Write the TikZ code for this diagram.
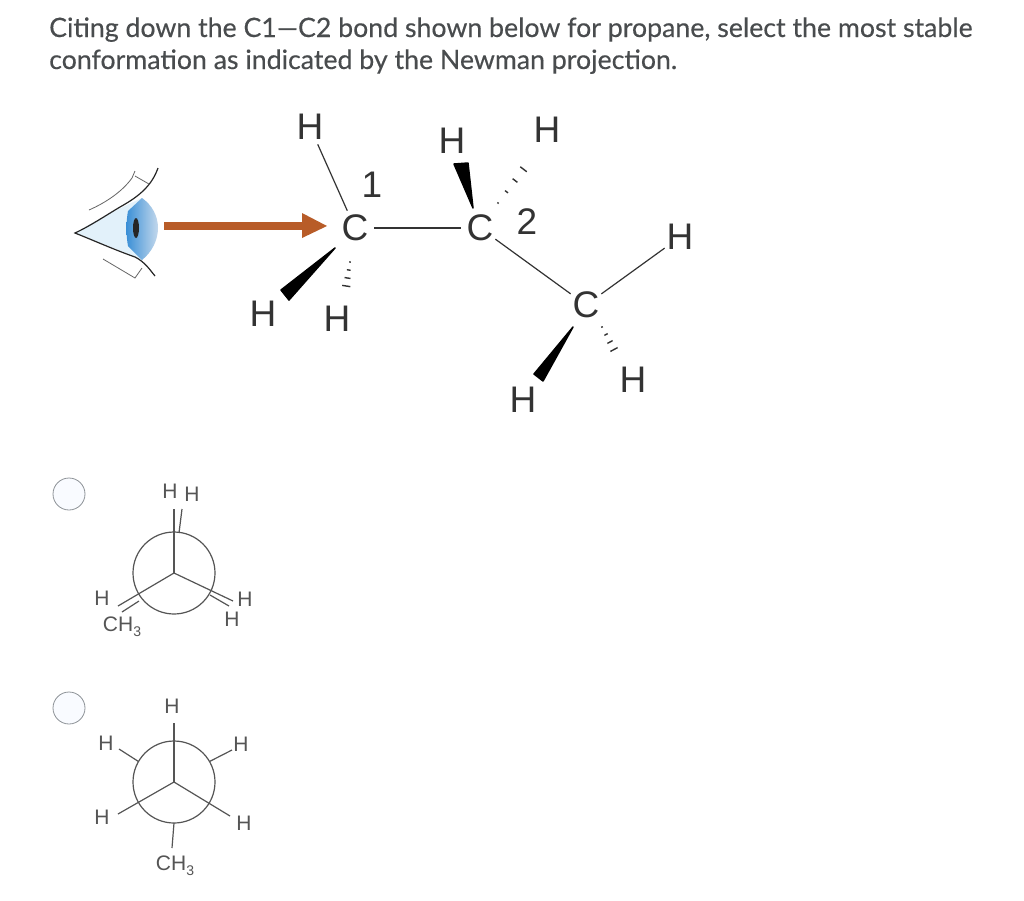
\documentclass[tikz,border=0pt]{standalone}
\usepackage{fontspec}
\setmainfont{Lato}[FakeBold=0.3]
\newfontfamily\chemfont{Liberation Sans}
\usetikzlibrary{calc}
\definecolor{headtext}{HTML}{494C4E}
\definecolor{arrowbrown}{HTML}{B85C28}
\definecolor{irisblue}{HTML}{3A8FD6}
\definecolor{irispale}{HTML}{C3D8EC}
\definecolor{eyewhite}{HTML}{E2F1FA}
\definecolor{radioedge}{HTML}{8D9297}
\definecolor{radiofill}{HTML}{F9FBFF}
\definecolor{newmangray}{HTML}{555555}
\tikzset{
  headline/.style={anchor=base west,inner sep=0pt,text=headtext,font=\fontsize{26.7}{30}\selectfont},
  atom/.style={circle,inner sep=0pt,outer sep=0pt,minimum size=38pt,text=black!80,font=\chemfont\fontsize{37}{37}\selectfont},
  locant/.style={inner sep=0pt,text=black!80,font=\chemfont\fontsize{37}{37}\selectfont},
  bond/.style={black!80,line width=1.2pt},
  radio/.style={circle,draw=radioedge,fill=radiofill,line width=0.8pt,minimum size=32pt,inner sep=0pt},
  ring/.style={circle,draw=newmangray,line width=1.2pt,minimum size=82pt,inner sep=0pt,outer sep=0pt},
  nbond/.style={newmangray,line width=1.2pt},
  small/.style={inner sep=0pt,text=newmangray,font=\chemfont\fontsize{21}{21}\selectfont},
  wedgebond/.style={black,line width=1.5pt,line join=round},
}
\newcommand{\hashbond}[2]{
  \foreach \t [evaluate=\t as \w using 0.8+4.4*\t] in {0,0.25,0.5,0.75,1}
    \draw[black!80,line width=1.4pt] ($(#1)!\t!(#2)!\w pt!90:(#2)$) -- ($(#1)!\t!(#2)!\w pt!-90:(#2)$);
}
\newcommand{\chsub}{CH\raisebox{-5pt}{\fontsize{14}{14}\selectfont 3}}
\begin{document}
\begin{tikzpicture}[x=1pt,y=-1pt]
\useasboundingbox[fill=white] (0,0) rectangle (1024,900);
\node[headline] (line1) at (49,37) {Citing down the C1---C2 bond shown below for propane, select the most stable};
\node[headline] (line2) at (49,69) {conformation as indicated by the Newman projection.};

\fill[eyewhite] (75,233) .. controls (100,218) and (120,208) .. (142,198) -- (142,260) .. controls (120,250) and (100,243) .. (75,233);
\shade[left color=irisblue,middle color=irisblue,right color=irispale] (142,198) .. controls (152,205) and (158,216) .. (158,228) .. controls (158,240) and (152,252) .. (142,260) -- (128,246) .. controls (126,235) and (126,222) .. (128,211) -- cycle;
\fill[black!85] (136,228) ellipse (3 and 10);
\draw[black!85,line width=1.2pt] (158,168) .. controls (152,185) and (140,196) .. (120,207) .. controls (105,216) and (90,226) .. (75,233) .. controls (95,241) and (115,250) .. (135,257) .. controls (145,262) and (150,270) .. (155,276);
\draw[black!60,line width=0.8pt] (89,210) .. controls (105,203) and (122,192) .. (132,178) -- (135,171) (135,176) -- (149,184);
\draw[black!60,line width=0.8pt] (103,259) -- (135,278) -- (142,268);

\coordinate (arrowtail) at (164,226);
\coordinate (arrowtip) at (327,226);
\draw[arrowbrown,line width=8pt] (arrowtail) -- (302,226);
\fill[arrowbrown] (302,213) -- (arrowtip) -- (302,238) -- cycle;

\node[atom] (c1) at (355,228) {C};
\node[atom] (c2) at (480,228) {C};
\node[atom] (c3) at (586,305) {C};
\node[atom] (h1) at (310,127) {H};
\node[atom] (h2) at (263,314) {H};
\node[atom] (h3) at (337,319) {H};
\node[atom] (h4) at (452,141) {H};
\node[atom] (h5) at (547,130) {H};
\node[atom] (h6) at (680,237) {H};
\node[atom] (h7) at (523,400) {H};
\node[atom] (h8) at (633,380) {H};
\node[locant] (one) at (372,185) {1};
\node[locant] (two) at (527,222) {2};
\draw[bond] (h1) -- (c1);
\draw[bond] (c1) -- (c2);
\draw[bond] (c2) -- (c3);
\draw[bond] (c3) -- (h6);
\coordinate (w1) at (335,248);
\coordinate (w2) at (473,208);
\coordinate (w3) at (573,327);
\filldraw[wedgebond] (w1) -- (281,290) -- (289,300) -- cycle;
\filldraw[wedgebond] (w2) -- (454,164) -- (468,163) -- cycle;
\filldraw[wedgebond] (w3) -- (534,374) -- (543,381) -- cycle;
\coordinate (d1) at (350,262);
\coordinate (d1e) at (345,294);
\coordinate (d2) at (498,203);
\coordinate (d2e) at (532,158);
\coordinate (d3) at (602,327);
\coordinate (d3e) at (618,357);
\hashbond{d1}{d1e}
\hashbond{d2}{d2e}
\hashbond{d3}{d3e}

\node[radio] (opt1) at (69,494) {};
\node[ring] (ring1) at (174,573) {};
\draw[nbond] (ring1.center) -- (174,509);
\draw[nbond] (ring1.center) -- (118,606);
\draw[nbond] (ring1.center) -- (233,601);
\draw[nbond] (179,533) -- (182,509);
\draw[nbond] (139,601) -- (122,612);
\draw[nbond] (210,595) -- (229,606);
\node[small] (n1a) at (170,491) {H};
\node[small] (n1b) at (192,494) {H};
\node[small] (n1c) at (102,598) {H};
\node[small] (n1d) at (122,627) {\chsub};
\node[small] (n1e) at (245,599) {H};
\node[small] (n1f) at (232,619) {H};

\node[radio] (opt2) at (69,708) {};
\node[ring] (ring2) at (174,782) {};
\draw[nbond] (ring2.center) -- (174,723);
\draw[nbond] (ring2.center) -- (118,814);
\draw[nbond] (ring2.center) -- (230,816);
\draw[nbond] (ring2.150) -- (119,749);
\draw[nbond] (ring2.30) -- (232,750);
\draw[nbond] (ring2.270) -- (172,848);
\node[small] (n2a) at (172,706) {H};
\node[small] (n2b) at (106,743) {H};
\node[small] (n2c) at (241,744) {H};
\node[small] (n2d) at (102,817) {H};
\node[small] (n2e) at (244,823) {H};
\node[small] (n2f) at (175,866) {\chsub};
\end{tikzpicture}
\end{document}
